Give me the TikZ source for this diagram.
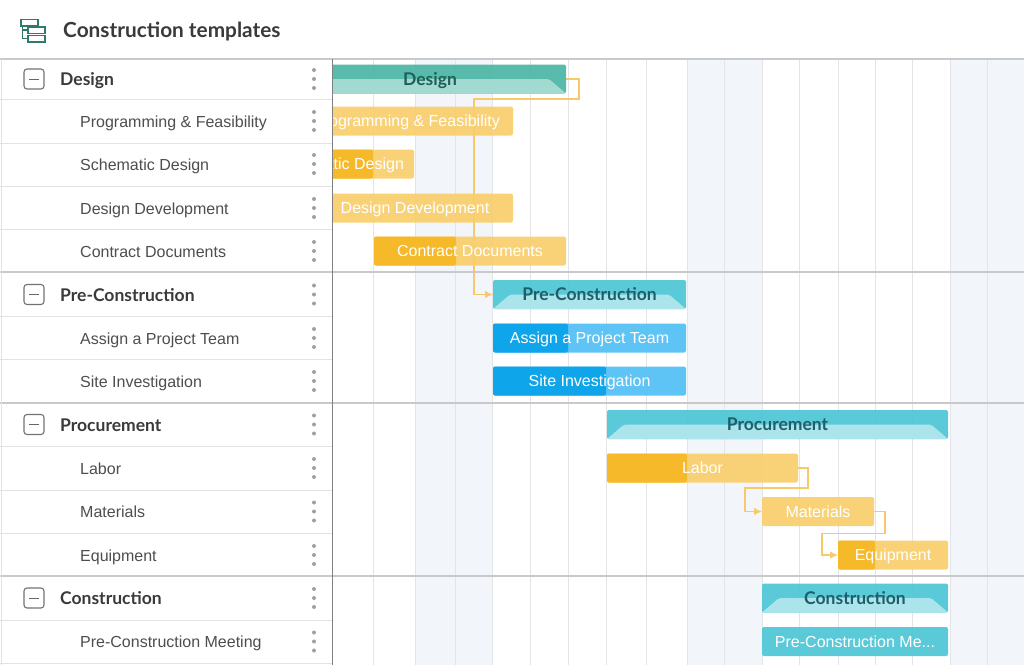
\documentclass[tikz,border=0pt]{standalone}
\usepackage{fontspec}
\setmainfont{Lato}
\newfontfamily\arialf{Liberation Sans}
\usetikzlibrary{arrows.meta}
\definecolor{teald}{HTML}{4DB6A6}
\definecolor{teall}{HTML}{A8DDD5}
\definecolor{tealt}{HTML}{1F5F58}
\definecolor{cyand}{HTML}{4EC6D6}
\definecolor{cyanl}{HTML}{B3E7EE}
\definecolor{cyant}{HTML}{1E5E69}
\definecolor{ydark}{HTML}{F5B825}
\definecolor{ylight}{HTML}{F9CF6E}
\definecolor{bdark}{HTML}{0AA3EA}
\definecolor{blight}{HTML}{52C0F5}
\definecolor{pcm}{HTML}{4EC7D7}
\definecolor{gridc}{HTML}{E2E4E8}
\definecolor{colshade}{HTML}{F2F5FA}
\definecolor{grpc}{HTML}{C9C9C9}
\definecolor{rowc}{HTML}{E3E3E3}
\definecolor{txt}{HTML}{3A3A3A}
\definecolor{dotc}{HTML}{A0A0A0}
\definecolor{iconc}{HTML}{2F7A6C}
\definecolor{connc}{HTML}{F8C96B}
\begin{document}
\begin{tikzpicture}[x=1pt,y=-1pt,
  lbl/.style={anchor=base west, inner sep=0pt, text=txt!90, font=\arialf\fontsize{16}{19}\selectfont},
  plbl/.style={anchor=base west, inner sep=0pt, text=txt, font=\fontsize{17.5}{20}\selectfont\bfseries},
  bar/.style={anchor=west, minimum height=29pt, inner sep=0pt, outer sep=0pt, rounded corners=2pt,
    fill opacity=0.93, text opacity=1,
    text height=11.5pt, text depth=0pt, font=\arialf\fontsize{16}{19}\selectfont, text=white},
  summary/.style n args={3}{bar, fill=#1, text=#3, text height=12.6pt, font=\fontsize{17.5}{20}\selectfont\bfseries,
    path picture={\fill[#2] ([xshift=17pt]path picture bounding box.west) -- ([xshift=-17pt]path picture bounding box.east) -- (path picture bounding box.south east) -- (path picture bounding box.south west) -- cycle;}},
  progress/.style 2 args={path picture={\fill[#1] (path picture bounding box.south west) rectangle ([xshift=#2]path picture bounding box.north west);}},
  minusbox/.style={draw=black!55, line width=1.1pt, rounded corners=3pt, minimum size=20pt, inner sep=0pt,
    path picture={\draw[black!60, line width=1pt] ([xshift=-5pt]path picture bounding box.center) -- ([xshift=5pt]path picture bounding box.center);}},
  conn/.style={connc, line width=1.2pt, -{Latex[length=8pt,width=7.5pt]}},
  title/.style={anchor=west, inner sep=0pt, text=txt, font=\fontsize{20.8}{25}\selectfont\bfseries}
]
\useasboundingbox (0,0) rectangle (1024,665);
\fill[white] (0,0) rectangle (1024,665);

% header
\begin{scope}[iconc, line width=1.5pt]
  \draw (21,19.5) rectangle (38,26);
  \draw (28,27) rectangle (45,33.5);
  \draw (28,35.5) rectangle (45,42);
  \draw (22.5,26) -- (22.5,38.5) -- (28,38.5);
  \draw (22.5,30.2) -- (28,30.2);
\end{scope}
\node[title] (ttl) at (63,32) {Construction templates};

% gantt grid
\begin{scope}
  \clip (333,59) rectangle (1024,665);
  \fill[colshade] (415,59) rectangle (492,665);
  \fill[colshade] (687,59) rectangle (762,665);
  \fill[colshade] (950,59) rectangle (1024,665);
  \foreach \gx in {373,415,455,492,530,568,606,646,687,724,762,799,838,875,912,950,987}
    \draw[gridc, line width=1pt] (\gx,59) -- (\gx,665);

  % bar end points used by the connectors
  \coordinate (desE) at (566,79);
  \coordinate (preW) at (493,294.5);
  \coordinate (labE) at (798,468);
  \coordinate (matW) at (762,511.5);
  \coordinate (matE) at (874,511.5);
  \coordinate (eqW) at (838,555);

  % connectors (behind the bars)
  \draw[conn] (desE) -- ++(13,0) -- ++(0,20) -| ([xshift=-19pt]preW) -- (preW);
  \draw[conn] (labE) -- ++(10,0) -- ++(0,20) -| ([xshift=-17pt]matW) -- (matW);
  \draw[conn] (matE) -- ++(11,0) -- ++(0,22) -| ([xshift=-16pt]eqW) -- (eqW);

  % bars
  \node[summary={teald}{teall}{tealt}, minimum width=272pt] (des) at (294,79) {Design};
  \node[bar, fill=ylight, minimum width=213pt] (prg) at (300,121) {Programming \& Feasibility};
  \node[bar, fill=ylight, progress={ydark}{108pt}, minimum width=149pt] (sch) at (265,164) {Schematic Design};
  \node[bar, fill=ylight, minimum width=196pt] (dd) at (317,208) {Design Development};
  \node[bar, fill=ylight, progress={ydark}{82pt}, minimum width=192pt] (cd) at (374,251) {Contract Documents};
  \node[summary={cyand}{cyanl}{cyant}, minimum width=193pt] (pre) at (493,294.5) {Pre-Construction};
  \node[bar, fill=blight, progress={bdark}{75pt}, minimum width=193pt] (apt) at (493,338) {Assign a Project Team};
  \node[bar, fill=blight, progress={bdark}{113pt}, minimum width=193pt] (si) at (493,381) {Site Investigation};
  \node[summary={cyand}{cyanl}{cyant}, minimum width=341pt] (pro) at (607,424.5) {Procurement};
  \node[bar, fill=ylight, progress={ydark}{80pt}, minimum width=191pt] (lab) at (607,468) {Labor};
  \node[bar, fill=ylight, minimum width=112pt] (mat) at (762,511.5) {Materials};
  \node[bar, fill=ylight, progress={ydark}{37pt}, minimum width=110pt] (eq) at (838,555) {Equipment};
  \node[summary={cyand}{cyanl}{cyant}, minimum width=186pt] (con) at (762,598) {Construction};
  \node[bar, fill=pcm, minimum width=186pt] (pcm) at (762,641.5) {Pre-Construction Me...};
\end{scope}

% left panel lines
\foreach \ry in {99,143,186,229,316,359,446,490,533,620,663}
  \draw[rowc, line width=1pt] (0,\ry) -- (332,\ry);
\foreach \ry in {272,403,576}
  \draw[grpc, line width=1.2pt] (0,\ry) -- (1024,\ry);
\draw[grpc, line width=1.5pt] (0,59) -- (1024,59);
\draw[rowc, line width=1pt] (1,59) -- (1,665);
\draw[black!50, line width=1.2pt] (332.5,59) -- (332.5,665);

% left panel labels
\node[minusbox] (m1) at (34,79) {};
\node[minusbox] (m2) at (34,294.5) {};
\node[minusbox] (m3) at (34,424.5) {};
\node[minusbox] (m4) at (34,598) {};
\node[plbl] (l1) at (60,85.5) {Design};
\node[lbl] (l2) at (80,127) {Programming \& Feasibility};
\node[lbl] (l3) at (80,170) {Schematic Design};
\node[lbl] (l4) at (80,214) {Design Development};
\node[lbl] (l5) at (80,257) {Contract Documents};
\node[plbl] (l6) at (60,301) {Pre-Construction};
\node[lbl] (l7) at (80,344) {Assign a Project Team};
\node[lbl] (l8) at (80,387) {Site Investigation};
\node[plbl] (l9) at (60,431) {Procurement};
\node[lbl] (l10) at (80,474) {Labor};
\node[lbl] (l11) at (80,517.5) {Materials};
\node[lbl] (l12) at (80,561) {Equipment};
\node[plbl] (l13) at (60,604.5) {Construction};
\node[lbl] (l14) at (80,647.5) {Pre-Construction Meeting};

\foreach \c in {79,121,164,208,251,294.5,338,381,424.5,468,511.5,555,598,641.5}{
  \fill[dotc] (314,\c-9) circle (2pt);
  \fill[dotc] (314,\c) circle (2pt);
  \fill[dotc] (314,\c+9) circle (2pt);
}
\end{tikzpicture}
\end{document}
